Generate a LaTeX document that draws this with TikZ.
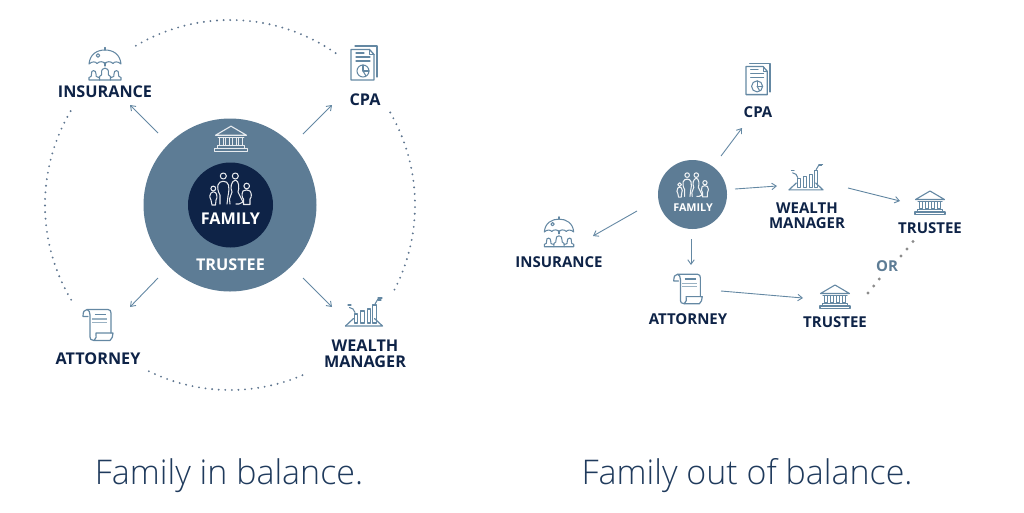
\documentclass[tikz,border=0pt]{standalone}
\usepackage{fontspec}
\setmainfont{Open Sans}
\newfontfamily\lightf{Open Sans Light}
\usetikzlibrary{arrows.meta}
\definecolor{navy}{HTML}{0E2347}
\definecolor{slate}{HTML}{5D7C95}
\definecolor{iconc}{HTML}{6488A3}
\definecolor{dotc}{HTML}{5F7690}
\definecolor{titlec}{HTML}{1F3A5C}
\tikzset{
 lab/.style={font=\fontsize{16.2}{16}\selectfont\bfseries,text=navy,align=center,inner sep=0pt},
 labs/.style={lab,font=\fontsize{15}{15}\selectfont\bfseries},
 ttl/.style={font=\lightf\fontsize{34}{36}\selectfont,text=titlec,inner sep=0pt},
 arr/.style={draw=iconc,line width=.9pt,-{Straight Barb[length=4.5pt,width=6.5pt]}},
 dotline/.style={draw=dotc,line width=2.1pt,line cap=round,dash pattern=on 0pt off 6.6pt},
 ic/.style={line width=1.05pt,line join=round,line cap=round},
 pics/bank/.style={code={
  \draw[ic,line width=1.1pt] (-14.5,-3.5) -- (0,-12) -- (14.5,-3.5) -- cycle;
  \draw[ic] (-12,-1.5) -- (12,-1.5);
  \foreach \c in {-9,-3,3,9}{\draw[ic] (\c-1.8,-1.5) rectangle (\c+1.8,6);}
  \draw[ic] (-12.5,6.5) rectangle (12.5,8.8);
  \draw[ic] (-15,9) rectangle (15,11.8);
 }},
 pics/people/.style={code={
  \draw[ic] (-7.7,-13) circle (3);
  \draw[ic] (4.3,-13) circle (3);
  \draw[ic] (-17.7,-.5) circle (2.4);
  \draw[ic] (15.7,-3) circle (2.8);
  \draw[ic] (-11,15) -- (-11,6) .. controls (-13.5,2) and (-13.5,-2) .. (-13,-4) .. controls (-12,-9) and (-3.5,-9) .. (-2.5,-4) .. controls (-2,0) and (-2,3) .. (-3,7) -- (-4,15);
  \draw[ic] (-1,15) -- (-1.5,10) -- (1,3) .. controls (-1,-1) and (0,-8) .. (4.5,-9) .. controls (8,-8) and (8.5,-1) .. (7,3) -- (12,13) -- (8,15) -- (5,15);
  \draw[ic] (-20,4) .. controls (-22,7) and (-21,10) .. (-20,11) -- (-19,16) -- (-15.5,16) -- (-15,11) .. controls (-13.5,9) and (-14,5) .. (-15.5,3.5) .. controls (-17,2.5) and (-19,2.5) .. (-20,4) -- cycle;
  \draw[ic] (12,2) .. controls (10.5,5) and (11,9) .. (12.5,10) -- (12.5,15.5) -- (19,15.5) -- (19,10) .. controls (21,8) and (20.5,4) .. (19,2) .. controls (17,.5) and (14,.5) .. (12,2) -- cycle;
 }},
 pics/umbrella/.style={code={
  \draw[ic] (0,-16.5) -- (0,-14);
  \draw[ic] (-16,0) .. controls (-15,-10) and (-8,-14) .. (0,-14) .. controls (8,-14) and (15,-10) .. (16,0) .. controls (13,-3) and (9,-2.5) .. (8,-.5) .. controls (6,-3) and (1,-3) .. (0,0) .. controls (-1,-3) and (-6,-3) .. (-8,-.5) .. controls (-9,-2.5) and (-13,-3) .. (-16,0);
  \draw[ic] (-7,-8.5) circle (1.8);
  \draw[ic] (0,-1.5) -- (0,2);
  \draw[ic] (-5.5,16) -- (-5.5,12.5) .. controls (-3.5,11.5) and (-3,10.5) .. (-3.3,9) .. controls (-4.5,2.5) and (4.5,2.5) .. (3.3,9) .. controls (3,10.5) and (3.5,11.5) .. (5.5,12.5) -- (5.5,16) -- cycle;
  \draw[ic] (-5.5,16) -- (-16,16) -- (-16,13.5) .. controls (-14,13) and (-13,12) .. (-13.5,10) .. controls (-14.5,5.5) and (-8.5,5.5) .. (-9,10) .. controls (-9.5,12) and (-9,13) .. (-5.5,13.5);
  \draw[ic] (5.5,16) -- (16,16) -- (16,13.5) .. controls (14,13) and (13,12) .. (13.5,10) .. controls (14.5,5.5) and (8.5,5.5) .. (9,10) .. controls (9.5,12) and (9,13) .. (5.5,13.5);
 }},
 pics/doc/.style={code={
  \draw[ic,line width=1.3pt] (-9,-17) -- (13,-17) -- (13,14);
  \draw[ic,line width=1.3pt] (-13,-13.5) -- (5.5,-13.5) -- (10,-8.5) -- (10,17) -- (-13,17) -- cycle;
  \draw[ic] (5.5,-13.5) -- (5.5,-8.5) -- (10,-8.5);
  \draw[ic] (-8,-10) -- (0,-10);
  \draw[ic] (-8,-6) -- (6,-6);
  \draw[ic] (-8,-2) -- (6,-2);
  \draw[ic] (-1,8) circle (6);
  \draw[ic] (-1,2) -- (-1,8) -- (5,8);
  \draw[ic] (-1,8) -- (2,13);
 }},
 pics/scrollicon/.style={code={
  \draw[ic,line width=1.2pt] (-10,-8.5) -- (-15,-8.5) .. controls (-15,-13) and (-14,-15.5) .. (-11,-15.5) -- (10,-15.5) .. controls (12,-15.5) and (13,-14) .. (13,-12) -- (13,8);
  \draw[ic,line width=1.2pt] (-11,-15.5) .. controls (-9,-15) and (-8,-13) .. (-8,-10) -- (-8,12) .. controls (-8,14) and (-7,15.5) .. (-4,15.5);
  \draw[ic,line width=1.2pt] (-4,15.5) -- (12,15.5) .. controls (14,14) and (15,11) .. (15,8) -- (-2,8) .. controls (-1,11) and (-2,14) .. (-4,15.5);
  \draw[iconc,line width=1.5pt] (-3.5,-10.5) -- (8,-10.5);
  \draw[iconc!65,line width=1.5pt] (-6,-6) -- (9,-6);
  \draw[iconc!65,line width=1.5pt] (-6,-2.5) -- (9,-2.5);
 }},
 pics/wealth/.style={code={
  \draw[ic,line width=1.2pt] (-18.5,14) -- (18.5,14) -- (10.5,6.5);
  \draw[ic,line width=1.2pt] (-18.5,14) -- (-10.5,6.5);
  \foreach \a/\t in {-8/2,-1.5/-1,5/-3,10.5/-7}{\draw[ic] (\a-1.6,\t) rectangle (\a+1.6,11);}
  \draw[ic] (-11,-3) -- (-9,0.5);
  \draw[ic] (-16,-7) -- (-13,-7); \draw[ic] (-14.5,-4.5) -- (-11,-3);
  \draw[ic] (11,-8) -- (14,-13);
  \draw[ic] (14,-14) -- (18,-14); \draw[ic] (14,-12) -- (17,-12);
 }},
}
\begin{document}
\begin{tikzpicture}[x=1pt,y=-1pt]
\useasboundingbox (0,0) rectangle (1024,512);
% left hub
\node[circle,fill=slate,minimum size=173pt,inner sep=0pt] (hub) at (230,205) {};
\node[circle,fill=navy,minimum size=85pt,inner sep=0pt] (core) at (230.5,205) {};
\pic[color=white!85!slate,scale=1.07] at (231,139) {bank};
\pic[color=white!90!navy] at (231,189) {people};
\node[lab,text=white] (famL) at (230.5,218.5) {FAMILY};
\node[lab,text=white] (truL) at (230.5,264.5) {TRUSTEE};
% left satellites
\pic[color=iconc] at (105,64) {umbrella};
\node[lab] (insL) at (105,91.5) {INSURANCE};
\pic[color=iconc] at (364,63) {doc};
\node[lab] (cpaL) at (365,99.5) {CPA};
\pic[color=iconc] at (364,312) {wealth};
\node[lab] (wmL) at (365,353.5) {WEALTH\\MANAGER};
\pic[color=iconc] at (98,325) {scrollicon};
\node[lab] (attL) at (98,358.5) {ATTORNEY};
% left arrows
\coordinate (a1s) at (158,133); \coordinate (a1e) at (130,105);
\coordinate (a2s) at (303,134); \coordinate (a2e) at (332,105);
\coordinate (a3s) at (303,278); \coordinate (a3e) at (332,307);
\coordinate (a4s) at (158,278); \coordinate (a4e) at (130,307);
\draw[arr] (a1s) -- (a1e);
\draw[arr] (a2s) -- (a2e);
\draw[arr] (a3s) -- (a3e);
\draw[arr] (a4s) -- (a4e);
% dotted ring
\draw[dotline] plot[domain=120.6:53.7,samples=60] ({230+185*cos(\x)},{205-185*sin(\x)});
\draw[dotline] plot[domain=30:-28.5,samples=60] ({230+185*cos(\x)},{205-185*sin(\x)});
\draw[dotline] plot[domain=149.5:211.3,samples=60] ({230+185*cos(\x)},{205-185*sin(\x)});
\draw[dotline] plot[domain=244:294.8,samples=60] ({230+185*cos(\x)},{205-185*sin(\x)});
% right side
\node[circle,fill=slate,minimum size=69pt,inner sep=0pt] (fam) at (692.5,194.5) {};
\pic[color=white!90!slate,scale=.76] at (693,185) {people};
\node[lab,text=white,font=\fontsize{10.8}{12}\selectfont\bfseries] (famR) at (693,207.5) {FAMILY};
\pic[color=iconc,scale=.92] at (758,79) {doc};
\node[labs] (cpaR) at (758,112.5) {CPA};
\pic[color=iconc,scale=.92] at (806,177) {wealth};
\node[labs] (wmR) at (807,215.5) {WEALTH\\MANAGER};
\pic[color=iconc] at (930,203) {bank};
\node[labs] (truA) at (930,228.5) {TRUSTEE};
\pic[color=iconc] at (835,297) {bank};
\node[labs] (truB) at (835,322.5) {TRUSTEE};
\pic[color=iconc,scale=.92] at (559,232) {umbrella};
\node[labs] (insR) at (559,262.5) {INSURANCE};
\pic[color=iconc,scale=.95] at (688,289) {scrollicon};
\node[labs] (attR) at (688,319.5) {ATTORNEY};
\node[lab,text=slate,font=\fontsize{15}{16}\selectfont\bfseries] (orn) at (887,266.5) {OR};
\coordinate (b1s) at (721,156); \coordinate (b1e) at (742,128);
\coordinate (b2s) at (735,189); \coordinate (b2e) at (777,186);
\coordinate (b3s) at (848,188); \coordinate (b3e) at (900,201);
\coordinate (b4s) at (637,211); \coordinate (b4e) at (593,236);
\coordinate (b5s) at (691,239); \coordinate (b5e) at (691,265);
\coordinate (b6s) at (721,291); \coordinate (b6e) at (803,298);
\draw[arr] (b1s) -- (b1e);
\draw[arr] (b2s) -- (b2e);
\draw[arr] (b3s) -- (b3e);
\draw[arr] (b4s) -- (b4e);
\draw[arr] (b5s) -- (b5e);
\draw[arr] (b6s) -- (b6e);
\foreach \p in {(868,293),(873.7,286),(879.3,279),(901,256),(907,249),(913,241.5)}
  \fill[gray!90] \p circle (1.6);
% titles
\node[ttl] (t1) at (229,476) {Family in balance.};
\node[ttl] (t2) at (747,476) {Family out of balance.};
\end{tikzpicture}
\end{document}
